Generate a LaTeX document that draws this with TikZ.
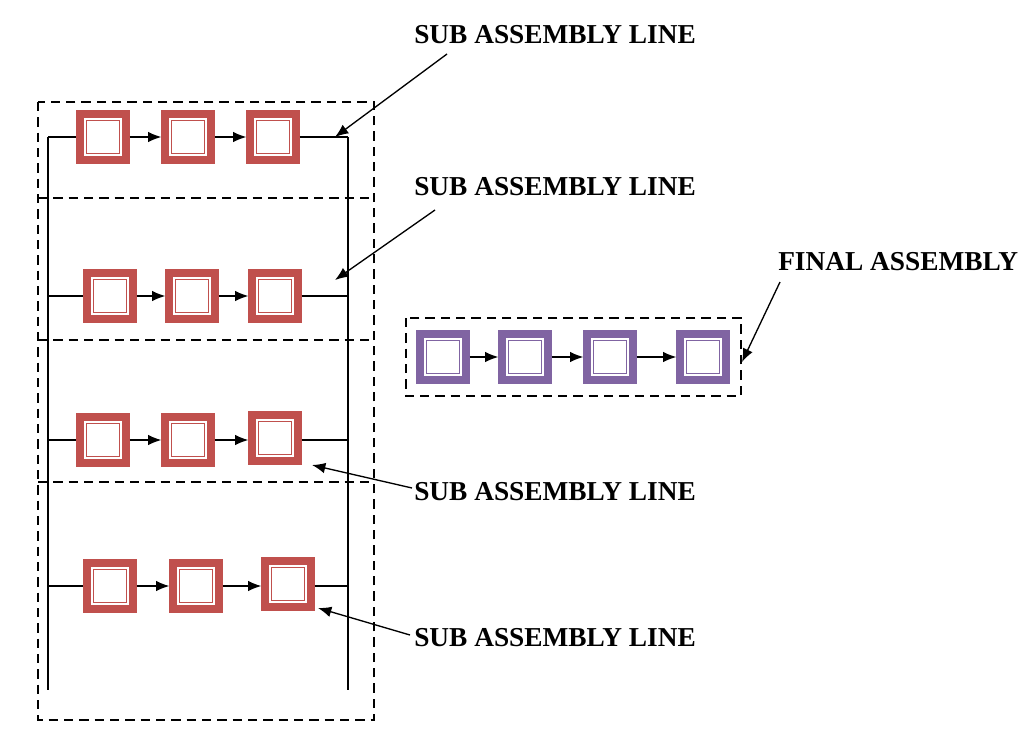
\documentclass[tikz,border=0pt]{standalone}
\usepackage{fontspec}
\setmainfont{Liberation Serif}
\usetikzlibrary{arrows.meta}
\definecolor{rd}{HTML}{C0504D}
\definecolor{pu}{HTML}{8064A2}
\begin{document}
\begin{tikzpicture}[x=0.75pt,y=-0.75pt,
 box/.style={rectangle,draw=#1,line width=6pt,fill=white,minimum size=34pt,inner sep=0pt,
   path picture={\draw[#1,line width=0.8pt] ([shift={(4.5pt,4.5pt)}]path picture bounding box.south west) rectangle ([shift={(-4.5pt,-4.5pt)}]path picture bounding box.north east);}},
 dsh/.style={line width=1.6pt,dash pattern=on 7pt off 4.5pt},
 ar/.style={-{Latex[length=10pt,width=8pt]},line width=1pt},
 ln/.style={line width=1pt},
 lab/.style={font=\bfseries\fontsize{20.5}{24}\selectfont,inner sep=0pt,anchor=west}]
\useasboundingbox (0,0) rectangle (1025,740);
\draw[dsh] (38,102) rectangle (374,720);
\foreach \y in {198,340,482} \draw[dsh] (38,\y) -- (374,\y);
\draw[ln] (48,137) -- (48,690);
\draw[ln] (348,137) -- (348,690);
\node[box=rd] (a1) at (103,137) {};
\node[box=rd] (a2) at (188,137) {};
\node[box=rd] (a3) at (273,137) {};
\node[box=rd] (b1) at (110,296) {};
\node[box=rd] (b2) at (192,296) {};
\node[box=rd] (b3) at (275,296) {};
\node[box=rd] (c1) at (103,440) {};
\node[box=rd] (c2) at (188,440) {};
\node[box=rd] (c3) at (275,438) {};
\node[box=rd] (d1) at (110,586) {};
\node[box=rd] (d2) at (196,586) {};
\node[box=rd] (d3) at (288,584) {};
\foreach \r/\yy in {a/137,b/296,c/440,d/586}{
  \coordinate (\r L) at (48,\yy);
  \coordinate (\r R) at (348,\yy);
  \draw[ln] (\r L) -- (\r1);
  \draw[ar] (\r1) -- (\r2);
  \draw[ar] (\r2.east) -- (\r3.west|-\r2.east);
  \draw[ln] (\r3.east|-\r R) -- (\r R);
}
\draw[dsh] (406,318) rectangle (741,396);
\node[box=pu] (f1) at (443,357) {};
\node[box=pu] (f2) at (525,357) {};
\node[box=pu] (f3) at (610,357) {};
\node[box=pu] (f4) at (703,357) {};
\draw[ar] (f1) -- (f2);
\draw[ar] (f2) -- (f3);
\draw[ar] (f3) -- (f4);
\node[lab] (l1) at (414,35) {SUB ASSEMBLY LINE};
\node[lab] (l2) at (414,187) {SUB ASSEMBLY LINE};
\node[lab] (l3) at (414,492) {SUB ASSEMBLY LINE};
\node[lab] (l4) at (414,638) {SUB ASSEMBLY LINE};
\node[lab] (l5) at (778,262) {FINAL ASSEMBLY};
\coordinate (t1) at (335,137);\coordinate (t2) at (335,280);
\coordinate (t3) at (312,465);\coordinate (t4) at (318,608);
\coordinate (t5) at (742,362);
\draw[ar] (447,54) -- (t1);
\draw[ar] (435,210) -- (t2);
\draw[ar] (412,488) -- (t3);
\draw[ar] (410,635) -- (t4);
\draw[ar] (780,282) -- (t5);
\end{tikzpicture}
\end{document}
